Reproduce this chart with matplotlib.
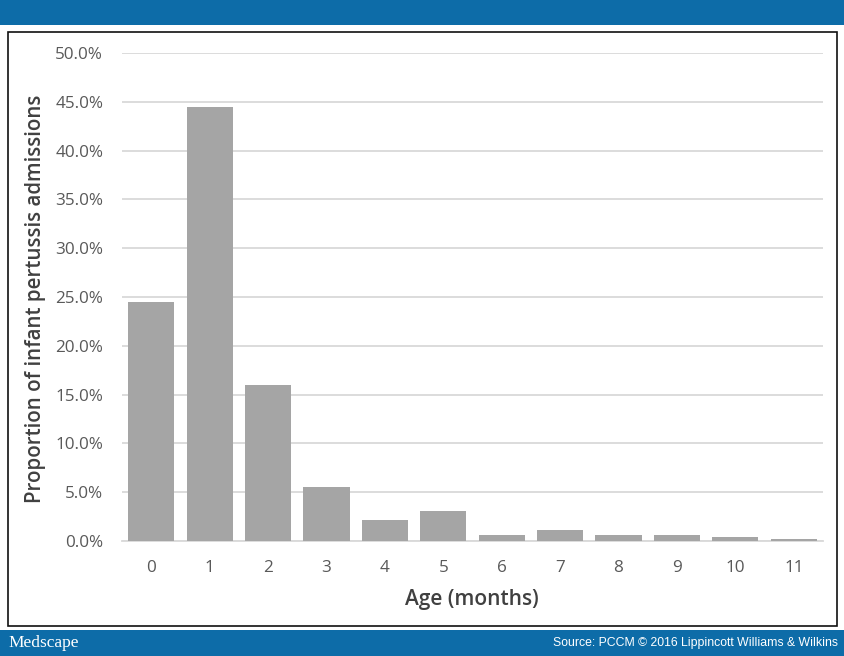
import matplotlib
matplotlib.use("Agg")
import matplotlib.pyplot as plt
from matplotlib.patches import Rectangle
from matplotlib.ticker import FuncFormatter, MultipleLocator

ages = ["0", "1", "2", "3", "4", "5", "6", "7", "8", "9", "10", "11"]
proportions = [24.5, 44.5, 16.0, 5.5, 2.15, 3.1, 0.65, 1.1, 0.65, 0.65, 0.4, 0.2]

x_label = "Age (months)"
y_label = "Proportion of infant pertussis admissions"
source = "Source: PCCM \u00a9 2016 Lippincott Williams & Wilkins"
brand = "Medscape"

W, H = 845, 656
fig = plt.figure(figsize=(W / 100, H / 100), dpi=100)
fig.patch.set_facecolor("white")

blue = "#0d6ca8"
# top banner
fig.add_artist(Rectangle((0, 1 - 25 / H), 1, 25 / H, transform=fig.transFigure,
                         facecolor=blue, edgecolor="none"))
# bottom banner
fig.add_artist(Rectangle((0, 0), 1, 26 / H, transform=fig.transFigure,
                         facecolor=blue, edgecolor="none"))
# frame box
fig.add_artist(Rectangle((8 / W, (H - 626) / H), (837 - 8) / W, (626 - 32) / H,
                         transform=fig.transFigure, facecolor="none",
                         edgecolor="#111111", linewidth=1.2))

ax = fig.add_axes([122 / W, (H - 541) / H, (823 - 122) / W, (541 - 53) / H])
pos = list(range(len(ages)))
ax.bar(pos, proportions, width=0.79, color="#a5a5a5", zorder=3)
ax.set_xlim(-0.5, len(ages) - 0.5)
ax.set_ylim(0, 50)
ax.yaxis.set_major_locator(MultipleLocator(5))
ax.yaxis.set_major_formatter(FuncFormatter(lambda v, p: f"{v:.1f}%"))
ax.set_xticks(pos)
ax.set_xticklabels(ages)
ax.grid(axis="y", color="#d9d9d9", linewidth=1.3, zorder=0)
for s in ["top", "right", "left"]:
    ax.spines[s].set_visible(False)
ax.spines["bottom"].set_color("#d9d9d9")
ax.spines["bottom"].set_linewidth(1.3)
ax.tick_params(axis="both", length=0, labelcolor="#595959", labelsize=12.3)
ax.tick_params(axis="y", pad=13.5)
ax.tick_params(axis="x", pad=14)
for t in ax.get_xticklabels() + ax.get_yticklabels():
    t.set_fontfamily("Open Sans")

fig.text(471.5 / W, (H - 600) / H, x_label, fontsize=15, fontfamily="Open Sans",
         fontweight="semibold", color="#404040", ha="center", va="center")
fig.text(36 / W, (H - 299) / H, y_label, fontsize=14.8, fontfamily="Open Sans",
         fontweight="semibold", color="#404040", ha="center", va="center", rotation=90)

fig.text(8 / W, 13 / H, brand, color="white", fontsize=12.5, fontfamily="Liberation Serif",
         ha="left", va="center")
fig.text(838 / W, 13 / H, source, color="white", fontsize=8.8, fontfamily="Liberation Sans",
         ha="right", va="center")

fig.savefig("out.png", dpi=100)
